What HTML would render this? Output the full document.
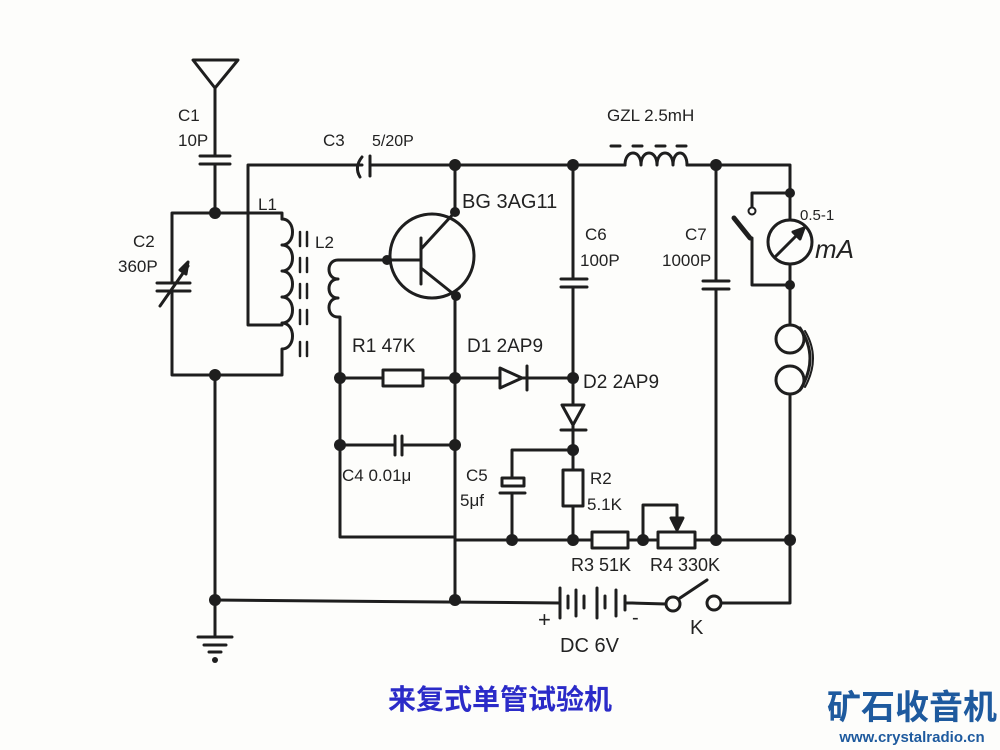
<!DOCTYPE html>
<html><head><meta charset="utf-8"><style>
body{margin:0;background:#fff;}
svg{display:block}
text{font-family:"Liberation Sans","Noto Sans CJK SC",sans-serif;fill:#222;}
</style></head><body>
<svg width="1000" height="750" viewBox="0 0 1000 750">
<rect width="1000" height="750" fill="#fdfdfb"/>
<g stroke="#1e1e1e" stroke-width="3" fill="none" stroke-linecap="round" stroke-linejoin="round">
<polygon points="193,60 238,60 215,88"/>
<line x1="215" y1="88" x2="215" y2="155"/>
<line x1="200" y1="156" x2="230" y2="156"/><line x1="200" y1="164" x2="230" y2="164"/>
<line x1="215" y1="164" x2="215" y2="213"/>
<polyline points="282,219 282,213 172,213 172,283"/>
<line x1="157" y1="283" x2="190" y2="283"/><line x1="157" y1="291" x2="190" y2="291"/>
<polyline points="172,291 172,375 282,375 282,362"/>
<line x1="160" y1="306" x2="188" y2="266"/>
<polygon points="188,262 180,270 186,274" fill="#1e1e1e"/>
<line x1="215" y1="375" x2="215" y2="635"/>
<line x1="198" y1="637" x2="232" y2="637"/><line x1="204" y1="645" x2="226" y2="645"/><line x1="209" y1="652" x2="221" y2="652"/>
<path d="M282,219 c14,0 14,26 0,26 c14,0 14,26 0,26 c14,0 14,26 0,26 c14,0 14,26 0,26 c14,0 14,26 0,26 l0,13"/>
<g stroke-width="2.5">
<line x1="300" y1="232" x2="300" y2="246"/><line x1="307" y1="232" x2="307" y2="246"/>
<line x1="300" y1="258" x2="300" y2="272"/><line x1="307" y1="258" x2="307" y2="272"/>
<line x1="300" y1="284" x2="300" y2="298"/><line x1="307" y1="284" x2="307" y2="298"/>
<line x1="300" y1="310" x2="300" y2="324"/><line x1="307" y1="310" x2="307" y2="324"/>
<line x1="300" y1="342" x2="300" y2="356"/><line x1="307" y1="342" x2="307" y2="356"/>
</g>
<path d="M387,260 L338,260 c-12,0 -12,19 0,19 c-12,0 -12,19 0,19 c-12,0 -12,19 0,19 L340,317 L340,537 L455,537"/>
<polyline points="282,325 248,325 248,165 362,165"/>
<path d="M362,157 q-8,10 -2,20"/>
<line x1="370" y1="156" x2="370" y2="176"/>
<line x1="370" y1="165" x2="625" y2="165"/>
<path d="M625,165 c0,-16 16,-16 16,0 c0,-16 16,-16 16,0 c0,-16 16,-16 16,0 c0,-16 14,-16 14,0"/>
<line x1="611" y1="146" x2="620" y2="146"/><line x1="633" y1="146" x2="642" y2="146"/><line x1="656" y1="146" x2="665" y2="146"/><line x1="677" y1="146" x2="686" y2="146"/>
<polyline points="687,165 790,165 790,193"/>
<circle cx="432" cy="256" r="42"/>
<line x1="455" y1="165" x2="455" y2="212"/>
<line x1="387" y1="260" x2="420" y2="260"/>
<line x1="421" y1="238" x2="421" y2="284"/>
<line x1="421" y1="249" x2="455" y2="212"/>
<line x1="421" y1="268" x2="456" y2="296"/>
<line x1="455" y1="296" x2="455" y2="600"/>
<line x1="340" y1="378" x2="383" y2="378"/>
<rect x="383" y="370" width="40" height="16"/>
<line x1="423" y1="378" x2="500" y2="378"/>
<polygon points="500,368 500,388 522,378"/>
<line x1="527" y1="366" x2="527" y2="390"/>
<line x1="522" y1="378" x2="573" y2="378"/>
<line x1="573" y1="165" x2="573" y2="278"/>
<line x1="561" y1="279" x2="587" y2="279"/><line x1="561" y1="287" x2="587" y2="287"/>
<line x1="573" y1="287" x2="573" y2="405"/>
<polygon points="562,405 584,405 573,425"/>
<line x1="561" y1="430" x2="586" y2="430"/>
<line x1="573" y1="425" x2="573" y2="470"/>
<rect x="563" y="470" width="20" height="36"/>
<line x1="573" y1="506" x2="573" y2="540"/>
<polyline points="573,450 512,450 512,478"/>
<rect x="502" y="478" width="22" height="8"/>
<line x1="500" y1="493" x2="525" y2="493"/>
<line x1="512" y1="493" x2="512" y2="540"/>
<line x1="340" y1="445" x2="394" y2="445"/>
<line x1="395" y1="436" x2="395" y2="455"/><line x1="402" y1="436" x2="402" y2="455"/>
<line x1="403" y1="445" x2="455" y2="445"/>
<line x1="455" y1="540" x2="592" y2="540"/>
<rect x="592" y="532" width="36" height="16"/>
<line x1="628" y1="540" x2="658" y2="540"/>
<rect x="658" y="532" width="37" height="16"/>
<line x1="695" y1="540" x2="790" y2="540"/>
<polyline points="643,540 643,505 677,505 677,522"/>
<polygon points="671,518 683,518 677,530" fill="#1e1e1e"/>
<line x1="716" y1="165" x2="716" y2="280"/>
<line x1="703" y1="281" x2="729" y2="281"/><line x1="703" y1="289" x2="729" y2="289"/>
<line x1="716" y1="289" x2="716" y2="540"/>
<polyline points="790,193 752,193 752,207"/>
<circle cx="752" cy="211" r="3.5" stroke-width="2"/>
<line x1="734" y1="218" x2="750" y2="238" stroke-width="5"/>
<polyline points="752,238 752,285 790,285"/>
<line x1="790" y1="193" x2="790" y2="220"/>
<circle cx="790" cy="242" r="22"/>
<line x1="776" y1="256" x2="802" y2="230"/>
<polygon points="804,228 793,232 800,239" fill="#1e1e1e"/>
<line x1="790" y1="264" x2="790" y2="325"/>
<circle cx="790" cy="339" r="14"/><circle cx="790" cy="380" r="14"/>
<path d="M800,328 q20,30 0,62"/><path d="M805,331 q16,27 0,56" stroke-width="2"/>
<polyline points="790,394 790,603 721,603"/>
<circle cx="714" cy="603" r="7"/>
<line x1="680" y1="598" x2="707" y2="580"/>
<circle cx="673" cy="604" r="7"/>
<line x1="666" y1="604" x2="632" y2="603"/>
<line x1="560" y1="588" x2="560" y2="618"/>
<line x1="568" y1="596" x2="568" y2="608"/>
<line x1="576" y1="590" x2="576" y2="616"/>
<line x1="584" y1="596" x2="584" y2="608"/>
<line x1="597" y1="588" x2="597" y2="618"/>
<line x1="605" y1="596" x2="605" y2="608"/>
<line x1="616" y1="590" x2="616" y2="616"/>
<line x1="625" y1="596" x2="625" y2="610"/>
<line x1="625" y1="603" x2="632" y2="603"/>
<line x1="215" y1="600" x2="560" y2="603"/>
</g>
<g fill="#1e1e1e">
<circle cx="215" cy="213" r="6"/><circle cx="215" cy="375" r="6"/><circle cx="215" cy="600" r="6"/>
<circle cx="215" cy="660" r="3"/>
<circle cx="455" cy="165" r="6"/><circle cx="573" cy="165" r="6"/><circle cx="716" cy="165" r="6"/>
<circle cx="387" cy="260" r="5"/><circle cx="455" cy="212" r="5"/><circle cx="456" cy="296" r="5"/>
<circle cx="340" cy="378" r="6"/><circle cx="455" cy="378" r="6"/><circle cx="573" cy="378" r="6"/>
<circle cx="340" cy="445" r="6"/><circle cx="455" cy="445" r="6"/><circle cx="573" cy="450" r="6"/>
<circle cx="512" cy="540" r="6"/><circle cx="573" cy="540" r="6"/><circle cx="643" cy="540" r="6"/><circle cx="716" cy="540" r="6"/><circle cx="790" cy="540" r="6"/>
<circle cx="455" cy="600" r="6"/>
<circle cx="790" cy="193" r="5"/><circle cx="790" cy="285" r="5"/>
</g>
<g font-size="17">
<text x="178" y="121">C1</text><text x="178" y="146">10P</text>
<text x="133" y="247">C2</text><text x="118" y="272">360P</text>
<text x="258" y="210">L1</text><text x="315" y="248">L2</text>
<text x="323" y="146">C3</text><text x="372" y="146" font-size="16">5/20P</text>
<text x="607" y="121">GZL  2.5mH</text>
<text x="462" y="208" font-size="20">BG 3AG11</text>
<text x="585" y="240">C6</text><text x="580" y="266">100P</text>
<text x="685" y="240">C7</text><text x="662" y="266">1000P</text>
<text x="800" y="220" font-size="15">0.5-1</text>
<text x="815" y="258" font-size="26" font-style="italic">mA</text>
<text x="352" y="352" font-size="19">R1 47K</text>
<text x="467" y="352" font-size="19">D1 2AP9</text>
<text x="583" y="388" font-size="19">D2 2AP9</text>
<text x="342" y="481">C4 0.01μ</text>
<text x="466" y="481">C5</text><text x="460" y="506">5μf</text>
<text x="590" y="484">R2</text><text x="587" y="510">5.1K</text>
<text x="571" y="571" font-size="18">R3 51K</text><text x="650" y="571" font-size="18">R4 330K</text>
<text x="538" y="627" font-size="22">+</text><text x="632" y="624" font-size="20">-</text>
<text x="560" y="652" font-size="20">DC 6V</text>
<text x="690" y="634" font-size="20">K</text>
</g>
<text x="500" y="709" font-size="28" font-weight="bold" text-anchor="middle" style="fill:#2b2bc8">来复式单管试验机</text>
<text x="912" y="719" font-size="34" font-weight="bold" text-anchor="middle" style="fill:#1e5a9e">矿石收音机</text>
<text x="912" y="742" font-size="15" font-weight="bold" text-anchor="middle" style="fill:#1e5a9e">www.crystalradio.cn</text>
</svg>
</body></html>
